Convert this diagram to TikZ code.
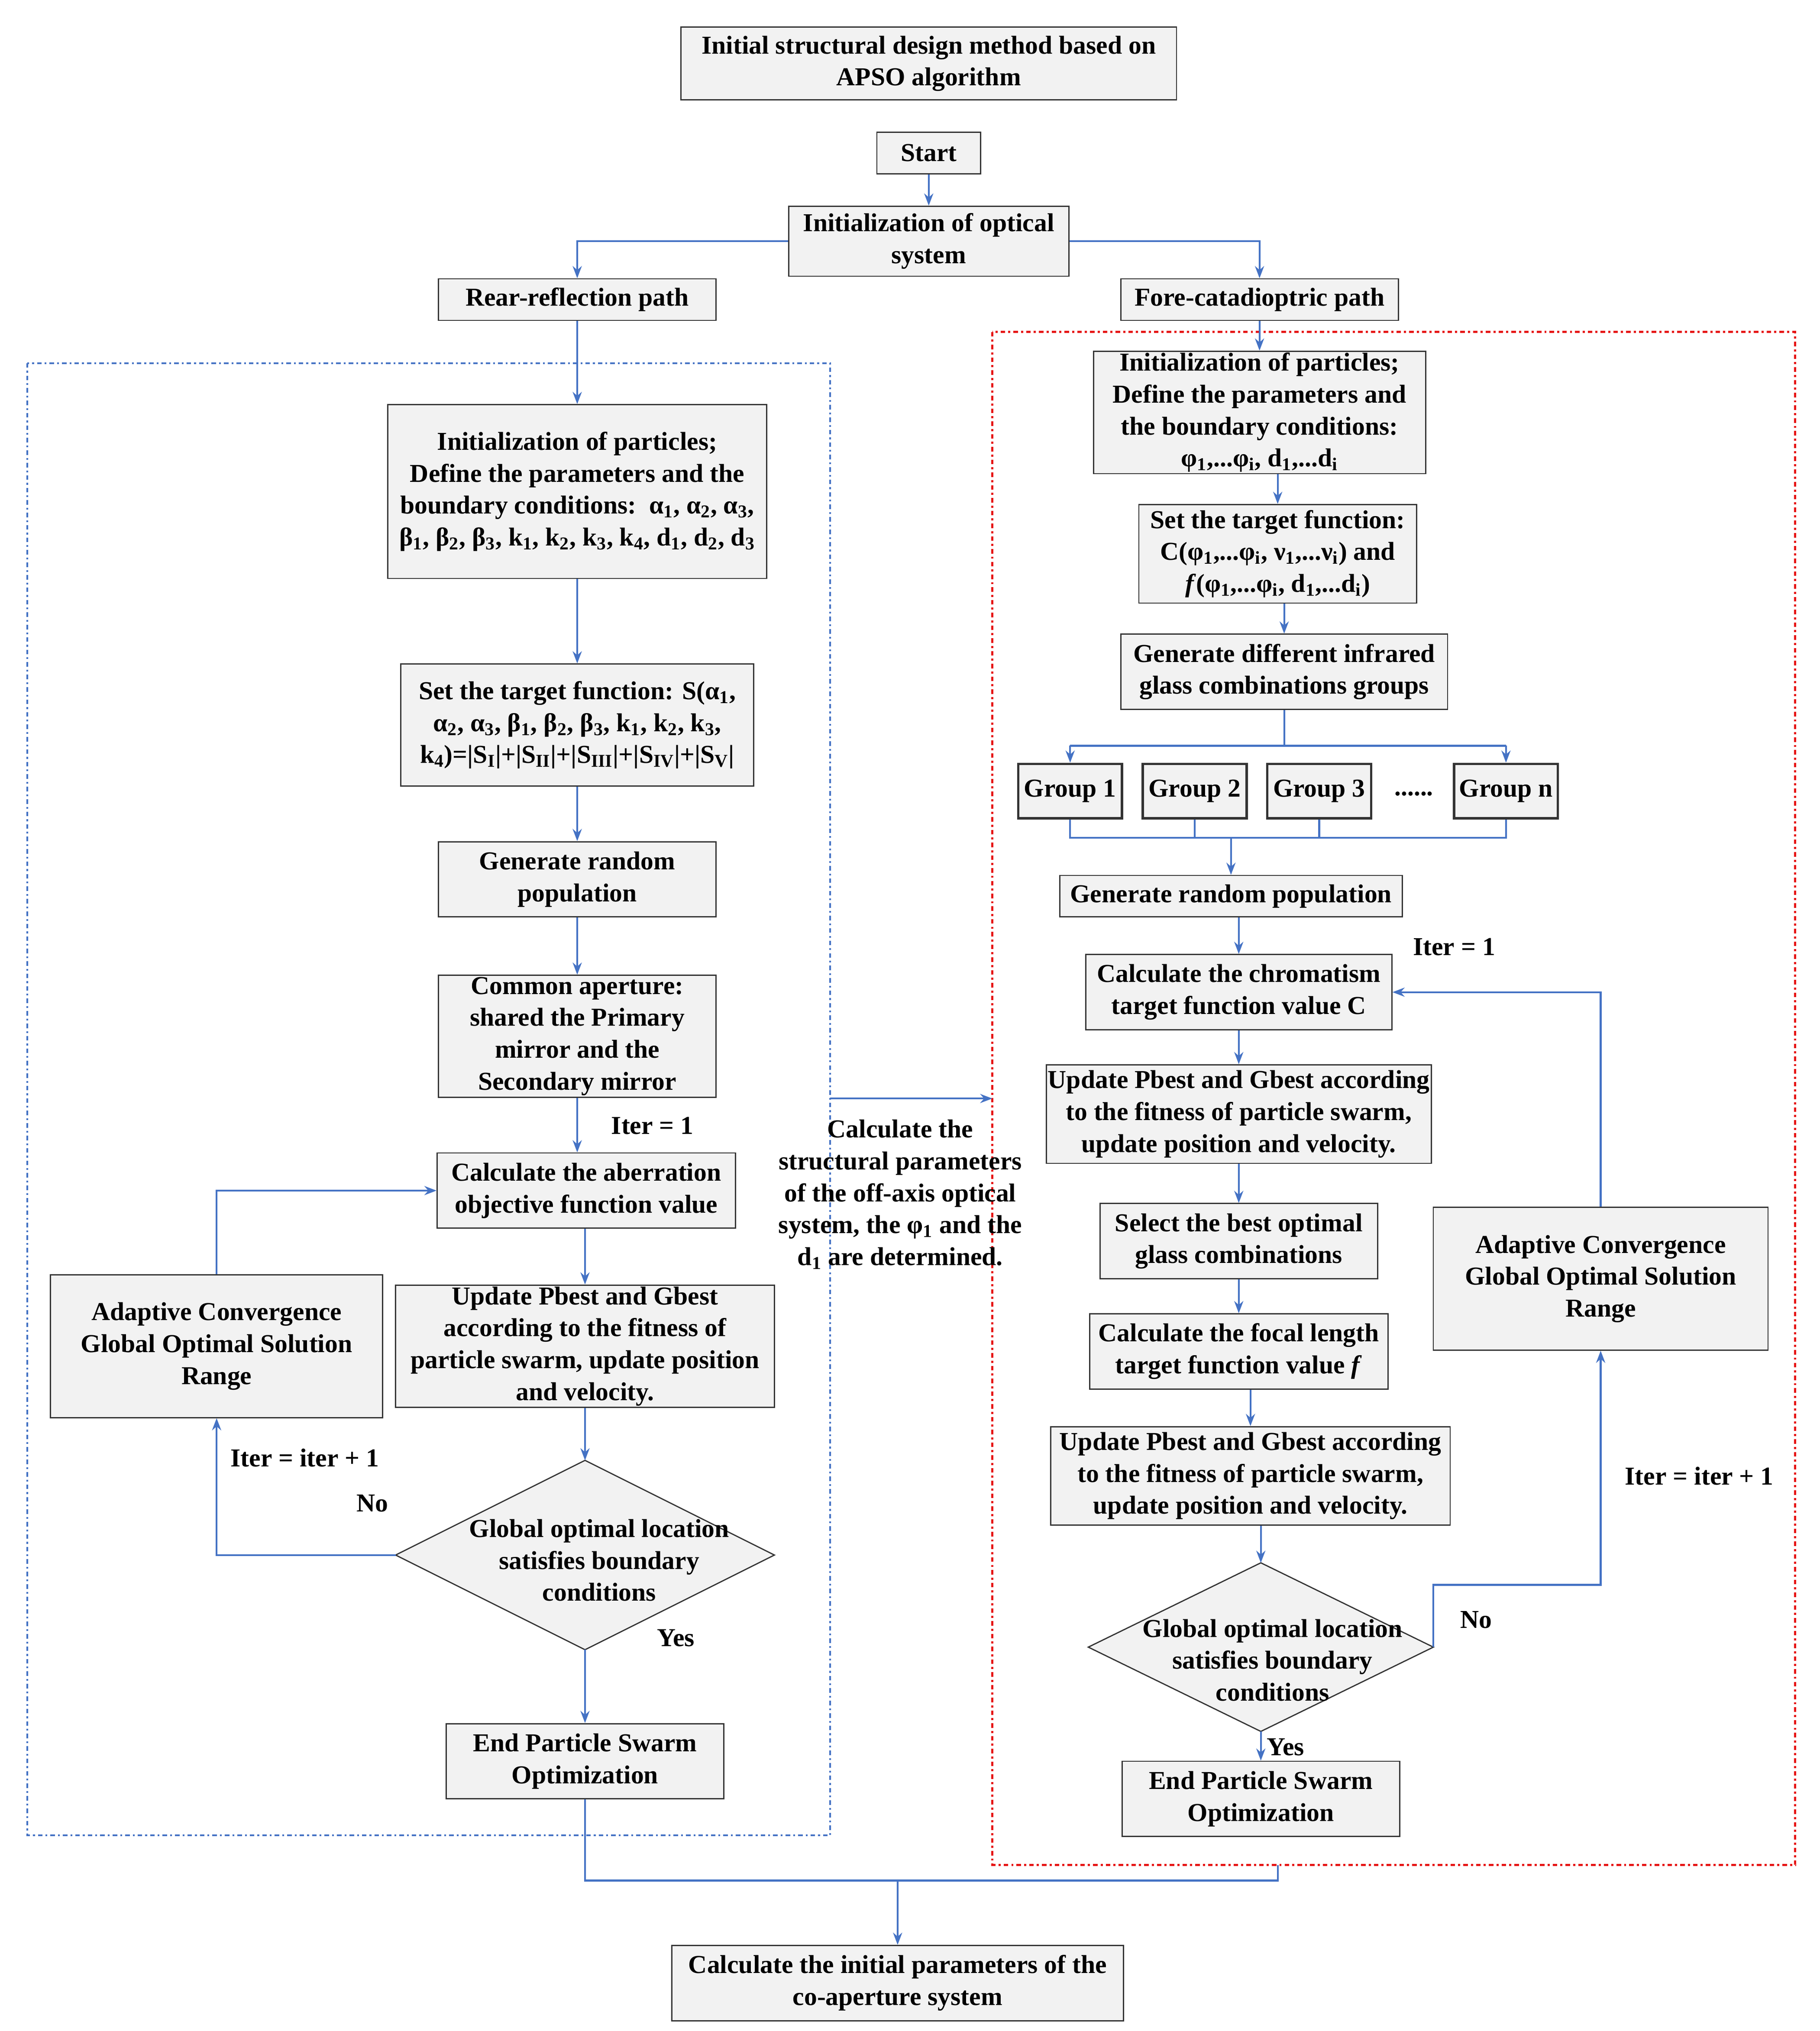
\documentclass[tikz,border=0pt]{standalone}
\usepackage{fontspec}
\setmainfont{Liberation Serif}
\usetikzlibrary{positioning,calc,arrows.meta}
\definecolor{flowblue}{RGB}{68,114,196}
\definecolor{boxgray}{RGB}{242,242,242}
\definecolor{pathred}{RGB}{230,20,20}

\begin{document}
\begin{tikzpicture}[
    x=0.03cm,y=-0.03cm,
    every node/.style={font=\fontsize{17}{21}\selectfont\bfseries,align=center,inner sep=1pt},
    box/.style={draw=black!80,fill=boxgray,line width=0.8pt},
    grp/.style={box,line width=1.6pt,minimum width=2.4cm,minimum height=1.26cm},
    lbl/.style={font=\fontsize{17}{21}\selectfont\bfseries},
    flow/.style={draw=flowblue,line width=1.2pt,-{Stealth[length=8pt,width=6pt]}},
    line/.style={draw=flowblue,line width=1.2pt}
]
\useasboundingbox (0,0) rectangle (1403,1566);

% Frames of both paths
\draw[flowblue,line width=1.2pt,dash dot] (21,280) rectangle (640,1415);
\draw[pathred,line width=1.4pt,dash dot] (765,256) rectangle (1384,1438);

% Top
\node[box,minimum width=11.46cm,minimum height=1.68cm] (title) at (716,49) {Initial structural design method based on\\APSO algorithm};
\node[box,minimum width=2.4cm,minimum height=0.96cm] (start) at (716,118) {Start};
\node[box,minimum width=6.48cm,minimum height=1.62cm] (initopt) at (716,186) {Initialization of optical\\system};
\node[box,minimum width=6.42cm,minimum height=0.96cm] (rear) at (445,231) {Rear-reflection path};
\node[box,minimum width=6.42cm,minimum height=0.96cm] (fore) at (971,231) {Fore-catadioptric path};

% Rear-reflection path
\node[box,minimum width=8.76cm,minimum height=4.02cm] (linit) at (445,379) {Initialization of particles;\\Define the parameters and the\\boundary conditions:\ \ α\textsubscript{1}, α\textsubscript{2}, α\textsubscript{3},\\β\textsubscript{1}, β\textsubscript{2}, β\textsubscript{3}, k\textsubscript{1}, k\textsubscript{2}, k\textsubscript{3}, k\textsubscript{4}, d\textsubscript{1}, d\textsubscript{2}, d\textsubscript{3}};
\node[box,minimum width=8.16cm,minimum height=2.82cm] (ltarget) at (445,559) {Set the target function: S(α\textsubscript{1},\\α\textsubscript{2}, α\textsubscript{3}, β\textsubscript{1}, β\textsubscript{2}, β\textsubscript{3}, k\textsubscript{1}, k\textsubscript{2}, k\textsubscript{3},\\k\textsubscript{4})=|S\textsubscript{I}|+|S\textsubscript{II}|+|S\textsubscript{III}|+|S\textsubscript{IV}|+|S\textsubscript{V}|};
\node[box,minimum width=6.42cm,minimum height=1.74cm] (lpop) at (445,678) {Generate random\\population};
\node[box,minimum width=6.42cm,minimum height=2.82cm] (lcommon) at (445,799) {Common aperture:\\shared the Primary\\mirror and the\\Secondary mirror};
\node[box,minimum width=6.9cm,minimum height=1.74cm] (laber) at (452,918) {Calculate the aberration\\objective function value};
\node[box,minimum width=8.76cm,minimum height=2.82cm] (lupdate) at (451,1038) {Update Pbest and Gbest\\according to the fitness of\\particle swarm, update position\\and velocity.};
\fill[boxgray,draw=black!80,line width=0.8pt] (305,1199) -- (451,1126) -- (597,1199) -- (451,1272) -- cycle;
\node (lcheck) at (462,1203) {Global optimal location\\satisfies boundary\\conditions};
\coordinate (lcheckw) at (305,1199);
\coordinate (lchecks) at (451,1272);
\node[box,minimum width=6.42cm,minimum height=1.74cm] (lend) at (451,1358) {End Particle Swarm\\Optimization};
\node[box,minimum width=7.68cm,minimum height=3.3cm] (ladapt) at (167,1038) {Adaptive Convergence\\Global Optimal Solution\\Range};
\node[lbl] at (503,868) {Iter = 1};
\node[lbl] at (235,1124) {Iter = iter + 1};
\node[lbl] at (287,1159) {No};
\node[lbl] at (521,1263) {Yes};

% Fore-catadioptric path
\node[box,minimum width=7.68cm,minimum height=2.82cm] (rinit) at (971,318) {Initialization of particles;\\Define the parameters and\\the boundary conditions:\\φ\textsubscript{1},...φ\textsubscript{i}, d\textsubscript{1},...d\textsubscript{i}};
\node[box,minimum width=6.42cm,minimum height=2.28cm] (rtarget) at (985,427) {Set the target function:\\C(φ\textsubscript{1},...φ\textsubscript{i}, ν\textsubscript{1},...ν\textsubscript{i}) and\\\textit{f}(φ\textsubscript{1},...φ\textsubscript{i}, d\textsubscript{1},...d\textsubscript{i})};
\node[box,minimum width=7.56cm,minimum height=1.74cm] (rglass) at (990,518) {Generate different infrared\\glass combinations groups};
\node[grp] (g1) at (825,610) {Group 1};
\node[grp] (g2) at (921,610) {Group 2};
\node[grp] (g3) at (1017,610) {Group 3};
\node (gdots) at (1090,612) {......};
\node[grp] (gn) at (1161,610) {Group n};
\node[box,minimum width=7.92cm,minimum height=0.96cm] (rpop) at (949,691) {Generate random population};
\node[box,minimum width=7.08cm,minimum height=1.74cm] (rchrom) at (955,765) {Calculate the chromatism\\target function value C};
\node[box,minimum width=8.88cm,minimum height=2.28cm] (rupd1) at (955,859) {Update Pbest and Gbest according\\to the fitness of particle swarm,\\update position and velocity.};
\node[box,minimum width=6.42cm,minimum height=1.74cm] (rselect) at (955,957) {Select the best optimal\\glass combinations};
\node[box,minimum width=6.9cm,minimum height=1.74cm] (rfocal) at (955,1042) {Calculate the focal length\\target function value \textit{f}};
\node[box,minimum width=9.24cm,minimum height=2.28cm] (rupd2) at (964,1138) {Update Pbest and Gbest according\\to the fitness of particle swarm,\\update position and velocity.};
\fill[boxgray,draw=black!80,line width=0.8pt] (839,1270) -- (972,1205) -- (1105,1270) -- (972,1335) -- cycle;
\node (rcheck) at (981,1280) {Global optimal location\\satisfies boundary\\conditions};
\coordinate (rchecke) at (1105,1270);
\coordinate (rchecks) at (972,1335);
\node[box,minimum width=6.42cm,minimum height=1.74cm] (rend) at (972,1387) {End Particle Swarm\\Optimization};
\node[box,minimum width=7.74cm,minimum height=3.3cm] (radapt) at (1234,986) {Adaptive Convergence\\Global Optimal Solution\\Range};
\node[lbl] at (1121,730) {Iter = 1};
\node[lbl] at (1310,1138) {Iter = iter + 1};
\node[lbl] at (1138,1249) {No};
\node[lbl] at (991,1347) {Yes};

% Middle
\node (mid) at (694,921) {Calculate the\\structural parameters\\of the off-axis optical\\system, the φ\textsubscript{1} and the\\d\textsubscript{1} are determined.};
\coordinate (bluee) at (640,847);
\coordinate (redw) at (765,847);
\coordinate (reds) at (985,1438);
\node[box,minimum width=10.44cm,minimum height=1.74cm] (final) at (692,1529) {Calculate the initial parameters of the\\co-aperture system};

% Connections
\draw[flow] (start) -- (initopt);
\draw[flow] (initopt.west) -| (rear.north);
\draw[flow] (initopt.east) -| (fore.north);
\draw[flow] (rear) -- (linit);
\draw[flow] (linit) -- (ltarget);
\draw[flow] (ltarget) -- (lpop);
\draw[flow] (lpop) -- (lcommon);
\draw[flow] (lcommon.south) -- (lcommon.south |- laber.north);
\draw[flow] (laber.south -| lupdate) -- (lupdate);
\draw[flow] (lupdate) -- (lchecks |- 0,1126);
\draw[flow] (lchecks) -- (lend);
\draw[flow] (lcheckw) -| (ladapt.south);
\draw[flow] (ladapt.north) |- (laber.west);
\draw[flow] (bluee) -- (redw);
\draw[flow] (fore) -- (fore |- rinit.north);
\draw[flow] (rinit.south -| rtarget) -- (rtarget);
\draw[flow] (rtarget.south -| rglass) -- (rglass);
\draw[line] (rglass.south) -- (990,575);
\draw[flow] (825,575) -- (g1.north);
\draw[flow] (1161,575) -- (gn.north);
\draw[line] (825,575) -- (1161,575);
\draw[line] (g1.south) -- (825,646) -- (1161,646) -- (gn.south);
\draw[line] (g2.south) -- (921,646);
\draw[line] (g3.south) -- (1017,646);
\draw[flow] (949,646) -- (rpop);
\draw[flow] (rpop.south -| rchrom) -- (rchrom);
\draw[flow] (rchrom) -- (rupd1);
\draw[flow] (rupd1) -- (rselect);
\draw[flow] (rselect) -- (rfocal);
\draw[flow] (rfocal.south -| rupd2) -- (rupd2);
\draw[flow] (rupd2.south -| rchecks) -- (972,1205);
\draw[flow] (rchecks) -- (rend);
\draw[flow] (rchecke) -- (1105,1222) -| (radapt.south);
\draw[flow] (radapt.north) |- (rchrom.east);
\draw[line] (lend.south) |- (985,1450) -- (reds);
\draw[flow] (692,1450) -- (final);
\end{tikzpicture}
\end{document}
